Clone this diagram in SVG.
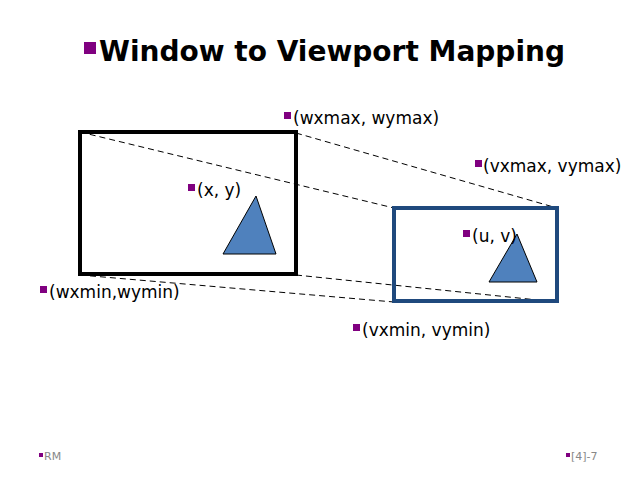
<svg xmlns="http://www.w3.org/2000/svg" width="638" height="478" viewBox="0 0 638 478">
<style>
text{font-family:"DejaVu Sans",Verdana,sans-serif;fill:#000}
.l{font-size:17px}
.b{fill:#800080}
.d{stroke:#000;stroke-width:1;stroke-dasharray:6,4;fill:none}
.f{font-size:11px;fill:#888}
</style>
<rect width="638" height="478" fill="#fff"/>
<rect class="b" x="84" y="42" width="12" height="12"/>
<text x="99" y="61" font-size="28" font-weight="bold">Window to Viewport Mapping</text>
<g id="connectors">
<line class="d" x1="80" y1="132" x2="394" y2="208"/>
<line class="d" x1="296" y1="133" x2="557" y2="208"/>
<line class="d" x1="80" y1="275" x2="394" y2="302"/>
<line class="d" x1="296" y1="275" x2="557" y2="302"/>
</g>
<g id="window"><rect x="80" y="132" width="216" height="142" fill="none" stroke="#000" stroke-width="4"/></g>
<g id="viewport"><rect x="394" y="208" width="163" height="93" fill="none" stroke="#1f497d" stroke-width="4"/></g>
<g id="tri1"><polygon points="256,196 276,254 223,254" fill="#4f81bd" stroke="#000" stroke-width="1"/></g>
<g id="tri2"><polygon points="517,234 537,282 489,282" fill="#4f81bd" stroke="#000" stroke-width="1"/></g>
<g id="labels">
<rect class="b" x="284" y="112" width="7" height="7"/><text class="l" x="293" y="124">(wxmax, wymax)</text>
<rect class="b" x="475" y="160" width="7" height="7"/><text class="l" x="483" y="172">(vxmax, vymax)</text>
<rect class="b" x="188" y="184" width="7" height="7"/><text class="l" x="197" y="196">(x, y)</text>
<rect class="b" x="463" y="230" width="7" height="7"/><text class="l" x="472" y="242">(u, v)</text>
<rect class="b" x="40" y="286" width="7" height="7"/><text class="l" x="49" y="298">(wxmin,wymin)</text>
<rect class="b" x="353" y="324" width="7" height="7"/><text class="l" x="362" y="336">(vxmin, vymin)</text>
</g>
<rect class="b" x="39" y="453" width="4" height="4"/><text class="f" x="44" y="460">RM</text>
<rect class="b" x="566" y="453" width="4" height="4"/><text class="f" x="571" y="460">[4]-7</text>
</svg>
